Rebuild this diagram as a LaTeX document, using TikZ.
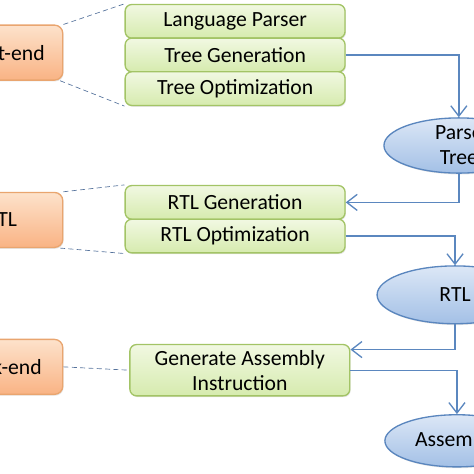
\documentclass[tikz,border=0pt]{standalone}
\usepackage{fontspec}
\setmainfont{Carlito}
\usetikzlibrary{shapes.geometric,arrows.meta,shadows}

\definecolor{orangeline}{HTML}{E9A56F}
\definecolor{orangetop}{HTML}{FDE2CB}
\definecolor{orangebot}{HTML}{F9B384}
\definecolor{greenline}{HTML}{A3C466}
\definecolor{greentop}{HTML}{F1F8E2}
\definecolor{greenbot}{HTML}{D6EBAE}
\definecolor{blueline}{HTML}{5A86BE}
\definecolor{bluetop}{HTML}{DCE7F6}
\definecolor{bluebot}{HTML}{A3C0E6}
\definecolor{flowline}{HTML}{5B87BF}
\definecolor{linkline}{HTML}{56739C}

\tikzset{
    phase/.style={draw=orangeline, thick, rounded corners=5pt,
        top color=orangetop, bottom color=orangebot,
        minimum width=2.59cm, minimum height=1.16cm,
        drop shadow={opacity=0.2, shadow xshift=0.5pt, shadow yshift=-0.8pt}},
    pass/.style={draw=greenline, thick, rounded corners=4pt,
        top color=greentop, bottom color=greenbot,
        minimum width=4.64cm, minimum height=0.71cm, align=center,
        drop shadow={opacity=0.2, shadow xshift=0.5pt, shadow yshift=-0.8pt}},
    result/.style={ellipse, draw=blueline, thick, inner sep=0pt,
        top color=bluetop, bottom color=bluebot, align=center,
        drop shadow={opacity=0.2, shadow xshift=0.5pt, shadow yshift=-0.8pt}},
    flow/.style={draw=flowline, thick, -{Straight Barb[length=2.2mm, width=3.4mm]}},
    link/.style={draw=linkline, densely dashed}
}

\begin{document}
\begin{tikzpicture}[font=\fontsize{13}{15}\selectfont]
    \useasboundingbox (0, 0) rectangle (10, 10);
    \clip (0, 0) rectangle (10, 10);

    % Phases on the left
    \node[phase] (fe) at (0.03, 8.89) {Front-end};
    \node[phase] (rtl) at (0.03, 5.36) {RTL};
    \node[phase] (be) at (0.03, 2.26) {Back-end};

    % Passes of the front-end
    \node[pass] (lp) at (4.96, 9.55) {Language Parser};
    \node[pass] (tg) at (4.96, 8.84) {Tree Generation};
    \node[pass] (to) at (4.96, 8.13) {Tree Optimization};

    % Passes on RTL
    \node[pass] (rg) at (4.96, 5.73) {RTL Generation};
    \node[pass] (ro) at (4.96, 5.02) {RTL Optimization};

    % Pass of the back-end
    \node[pass, minimum height=0.97cm] (ga) at (5.06, 2.19)
        {Generate Assembly\\Instruction};

    % Results on the right
    \node[result, minimum width=3.16cm, minimum height=1.16cm] (pt) at (9.68, 6.93) {Parse\\Tree};
    \node[result, minimum width=3.29cm, minimum height=1.22cm] (rtle) at (9.60, 3.78) {RTL};
    \node[result, minimum width=3.04cm, minimum height=1.10cm] (asm) at (9.64, 0.70) {Assembly};

    % Dashed links from phases to passes
    \draw[link] (fe.north east) -- (lp.north west);
    \draw[link] ([xshift=-2pt]fe.south east) -- (to.south west);
    \draw[link] (rtl.north east) -- (rg.north west);
    \draw[link] ([xshift=-2pt]rtl.south east) -- (ro.south west);
    \draw[link] (be.east) -- (ga.west);

    % Flow between passes and results
    \draw[flow] (tg.east) -| (pt.north);
    \draw[flow] (pt.south) |- (rg.east);
    \draw[flow] (ro.east) -| (rtle.north);
    \draw[flow] (rtle.south) |- ([yshift=-0.12cm]ga.north east);
    \draw[flow] (ga.east) -| (asm.north);

\end{tikzpicture}
\end{document}
